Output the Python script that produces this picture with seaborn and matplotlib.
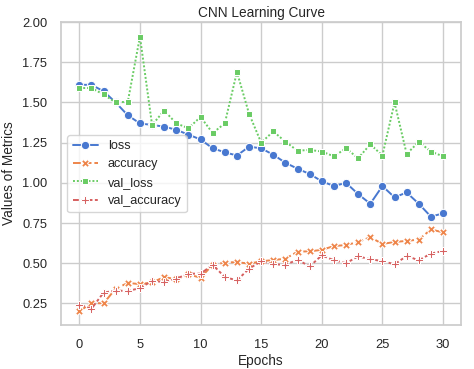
import pandas as pd
import matplotlib
matplotlib.use("Agg")
import matplotlib.pyplot as plt
import seaborn as sns

# values
epochs = list(range(31))
loss = [1.61, 1.61, 1.57, 1.50, 1.42, 1.37, 1.36, 1.35, 1.33, 1.30, 1.27,
        1.215, 1.19, 1.17, 1.225, 1.215, 1.175, 1.125, 1.088, 1.055, 1.01,
        0.98, 1.00, 0.93, 0.87, 0.98, 0.91, 0.94, 0.87, 0.79, 0.81]
accuracy = [0.20, 0.253, 0.25, 0.342, 0.377, 0.37, 0.38, 0.414, 0.40, 0.43, 0.41,
            0.49, 0.504, 0.507, 0.497, 0.512, 0.52, 0.528, 0.572, 0.574, 0.583,
            0.607, 0.613, 0.632, 0.662, 0.62, 0.632, 0.639, 0.647, 0.71, 0.692]
val_loss = [1.59, 1.59, 1.55, 1.50, 1.505, 1.91, 1.36, 1.45, 1.37, 1.34, 1.41,
            1.31, 1.37, 1.69, 1.43, 1.25, 1.32, 1.256, 1.20, 1.205, 1.195,
            1.165, 1.215, 1.153, 1.24, 1.17, 1.50, 1.18, 1.255, 1.195, 1.165]
val_accuracy = [0.242, 0.217, 0.317, 0.33, 0.327, 0.345, 0.39, 0.383, 0.404, 0.435, 0.435,
                0.49, 0.414, 0.393, 0.466, 0.512, 0.493, 0.49, 0.522, 0.48, 0.549,
                0.518, 0.50, 0.543, 0.524, 0.514, 0.493, 0.545, 0.518, 0.56, 0.576]

history = pd.DataFrame({"loss": loss, "accuracy": accuracy,
                        "val_loss": val_loss, "val_accuracy": val_accuracy},
                       index=epochs)

sns.set_theme(style="whitegrid", palette="muted")
plt.rcParams["font.family"] = ["Liberation Sans", "DejaVu Sans"]

fig, ax = plt.subplots(figsize=(4.74, 3.69), dpi=100)
fig.subplots_adjust(left=0.129, right=0.973, top=0.940, bottom=0.119)

sns.lineplot(data=history, markers=True, ax=ax, linewidth=1.4, markersize=6)

ax.set_ylim(0.115, 2.0)
ax.set_title("CNN Learning Curve", fontsize=9.8, pad=4)
ax.set_xlabel("Epochs", fontsize=9.8, labelpad=2)
ax.set_ylabel("Values of Metrics", fontsize=9.8, labelpad=4)
ax.tick_params(labelsize=9.3, pad=4)
ax.legend(loc="center left", fontsize=9.1)

plt.savefig("out.png", dpi=100)
